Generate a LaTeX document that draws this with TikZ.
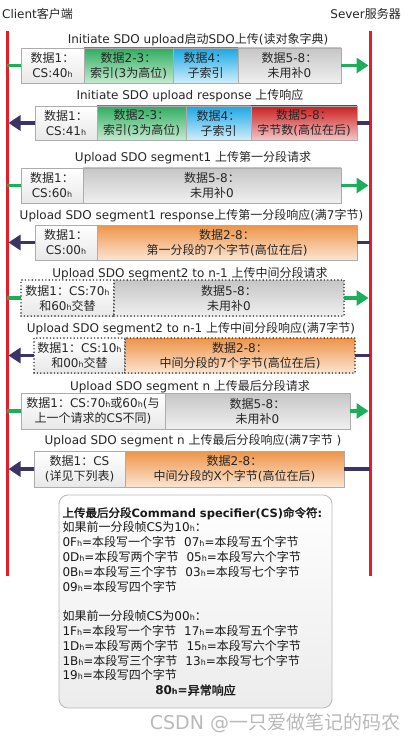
\documentclass[tikz,border=0pt]{standalone}
\usepackage{fontspec}
\usetikzlibrary{positioning,arrows.meta}
\setmainfont{DejaVu Sans}
\newfontfamily\cjkfont{Noto Sans CJK SC}[AutoFakeBold=2]

% switch to the CJK font for Chinese characters
\XeTeXinterchartokenstate=1
\chardef\cjkclass=100
\newcount\cjkcnt
\def\setcharclass#1#2#3{\cjkcnt=#1\relax
  \loop\XeTeXcharclass\cjkcnt=#3\relax\ifnum\cjkcnt<#2\advance\cjkcnt by 1\repeat}
\setcharclass{"21}{"2FFF}{0}
\setcharclass{"3000}{"303F}{\cjkclass}
\setcharclass{"4E00}{"9FFF}{\cjkclass}
\setcharclass{"FF00}{"FFEF}{\cjkclass}
\XeTeXinterchartoks 0 \cjkclass = {\begingroup\cjkfont}
\XeTeXinterchartoks 4095 \cjkclass = {\begingroup\cjkfont}
\XeTeXinterchartoks \cjkclass 0 = {\endgroup}
\XeTeXinterchartoks \cjkclass 4095 = {\endgroup}

\definecolor{lifered}{HTML}{E41E26}
\definecolor{arrgreen}{HTML}{1DAE5C}
\definecolor{arrpurple}{HTML}{3D3466}
\definecolor{gtop}{HTML}{2EAD5F}
\definecolor{gbot}{HTML}{C5EAD0}
\definecolor{btop}{HTML}{1AA7E6}
\definecolor{bbot}{HTML}{D2EEFA}
\definecolor{rtop}{HTML}{CC1E1E}
\definecolor{rbot}{HTML}{F4C6C6}
\definecolor{otop}{HTML}{EE9448}
\definecolor{obot}{HTML}{FBE5D2}

\newcommand{\hsub}{{\fontsize{8}{8}\selectfont h}}

\tikzset{
  lifeline/.style={draw=lifered, line width=3pt},
  title/.style={font=\fontsize{12}{14}\selectfont, inner sep=0pt, text=black!85},
  cell/.style={draw=gray!65, line width=0.8pt, minimum height=35, inner sep=1pt,
    outer sep=0pt, align=center, text=black!85, font=\fontsize{12}{15}\selectfont},
  dotcell/.style={cell, draw=black!85, line width=1.6pt, line cap=round,
    dash pattern=on 0pt off 3.4pt},
  cellwhite/.style={top color=white, bottom color=gray!18},
  cellgreen/.style={top color=gtop, bottom color=gbot},
  cellblue/.style={top color=btop, bottom color=bbot},
  cellred/.style={top color=rtop, bottom color=rbot},
  cellorange/.style={top color=otop, bottom color=obot},
  cellgrey/.style={top color=gray!45, bottom color=gray!12},
  reqline/.style={draw=arrgreen, line width=3.5pt},
  resline/.style={draw=arrpurple, line width=3.5pt},
  reqarrow/.style={reqline, -{Triangle[length=12pt,width=15pt]}, shorten >=1.5pt},
  resarrow/.style={resline, -{Triangle[length=12pt,width=15pt]}, shorten >=1.5pt}
}

\begin{document}
\begin{tikzpicture}[x=1pt,y=-1pt]
\useasboundingbox (0,0) rectangle (417,743);

% client and server
\node[title, anchor=west] (client) at (2,14) {Client客户端};
\node[title, anchor=east] (server) at (401,14) {Sever服务器};
\coordinate (cltop) at (7,31);
\coordinate (clbot) at (7,576);
\coordinate (svtop) at (370,31);
\coordinate (svbot) at (370,576);
\draw[lifeline] (cltop) -- (clbot);
\draw[lifeline] (svtop) -- (svbot);

% Initiate SDO upload
\node[title] (t1) at (198,40) {Initiate SDO upload启动SDO上传(读对象字典)};
\node[cell, cellwhite, minimum width=63] (f1a) at (52.5,65.5) {数据1：\\CS:40\hsub};
\node[cell, cellgreen, minimum width=89, right=0pt of f1a] (f1b) {数据2-3：\\索引(3为高位)};
\node[cell, cellblue, minimum width=65, right=0pt of f1b] (f1c) {数据4：\\子索引};
\node[cell, cellgrey, minimum width=103, right=0pt of f1c] (f1d) {数据5-8：\\未用补0};
\draw[reqline] (cltop |- f1a.west) -- (f1a.west);
\draw[reqarrow] (f1d.east) -- (svtop |- f1d.east);

% Initiate SDO upload response
\node[title] (t2) at (190,96) {Initiate SDO upload response 上传响应};
\node[cell, cellwhite, minimum width=62, minimum height=34] (f2a) at (66,123) {数据1：\\CS:41\hsub};
\node[cell, cellgreen, minimum width=89, minimum height=34, right=0pt of f2a] (f2b) {数据2-3：\\索引(3为高位)};
\node[cell, cellblue, minimum width=65, minimum height=34, right=0pt of f2b] (f2c) {数据4：\\子索引};
\node[cell, cellred, minimum width=106, minimum height=34, right=0pt of f2c] (f2d) {数据5-8：\\字节数(高位在后)};
\draw[resline] (svtop |- f2d.east) -- (f2d.east);
\draw[resarrow] (f2a.west) -- (cltop |- f2a.west);

% Upload SDO segment1
\node[title] (t3) at (193,158) {Upload SDO segment1 上传第一分段请求};
\node[cell, cellwhite, minimum width=62] (f3a) at (52,185.5) {数据1：\\CS:60\hsub};
\node[cell, cellgrey, minimum width=258, right=0pt of f3a] (f3b) {数据5-8：\\未用补0};
\draw[reqline] (cltop |- f3a.west) -- (f3a.west);
\draw[reqarrow] (f3b.east) -- (svtop |- f3b.east);

% Upload SDO segment1 response
\node[title] (t4) at (191.5,216) {Upload SDO segment1 response上传第一分段响应(满7字节)};
\node[cell, cellwhite, minimum width=62] (f4a) at (66,242.5) {数据1：\\CS:00\hsub};
\node[cell, cellorange, minimum width=260, right=0pt of f4a] (f4b) {数据2-8：\\第一分段的7个字节(高位在后)};
\draw[resline] (svtop |- f4b.east) -- (f4b.east);
\draw[resarrow] (f4a.west) -- (cltop |- f4a.west);

% Upload SDO segment2 to n-1
\node[title] (t5) at (190,274) {Upload SDO segment2 to n-1 上传中间分段请求};
\node[dotcell, cellwhite, minimum width=93, minimum height=36] (f5a) at (67.5,298) {数据1：CS:70\hsub\\和60\hsub 交替};
\node[dotcell, cellgrey, minimum width=230, minimum height=36, right=0pt of f5a] (f5b) {数据5-8：\\未用补0};
\draw[reqline] (cltop |- f5a.west) -- (f5a.west);
\draw[reqarrow] (f5b.east) -- (svtop |- f5b.east);

% Upload SDO segment2 to n-1 response
\node[title] (t6) at (191,329) {Upload SDO segment2 to n-1 上传中间分段响应(满7字节)};
\node[dotcell, cellwhite, minimum width=91] (f6a) at (79.5,355.5) {数据1：CS:10\hsub\\和00\hsub 交替};
\node[dotcell, cellorange, minimum width=230, right=0pt of f6a] (f6b) {数据2-8：\\中间分段的7个字节(高位在后)};
\draw[resline] (svtop |- f6b.east) -- (f6b.east);
\draw[resarrow] (f6a.west) -- (cltop |- f6a.west);

% Upload SDO segment n
\node[title] (t7) at (190,387) {Upload SDO segment n 上传最后分段请求};
\node[cell, cellwhite, minimum width=144, minimum height=36] (f7a) at (93,411) {数据1：CS:70\hsub 或60\hsub(与\\上一个请求的CS不同)};
\node[cell, cellgrey, minimum width=185, minimum height=36, right=0pt of f7a] (f7b) {数据5-8：\\未用补0};
\draw[reqline] (cltop |- f7a.west) -- (f7a.west);
\draw[reqarrow] (f7b.east) -- (svtop |- f7b.east);

% Upload SDO segment n response
\node[title] (t8) at (193,441) {Upload SDO segment n 上传最后分段响应(满7字节 )};
\node[cell, cellwhite, minimum width=91, minimum height=36] (f8a) at (79.5,469) {数据1：CS\\(详见下列表)};
\node[cell, cellorange, minimum width=219, minimum height=36, right=0pt of f8a] (f8b) {数据2-8：\\中间分段的X个字节(高位在后)};
\draw[resline] (svtop |- f8b.east) -- (f8b.east);
\draw[resarrow] (f8a.west) -- (cltop |- f8a.west);

% command specifier list
\node[draw=gray!55, line width=0.8pt, rounded corners=9, top color=white, bottom color=gray!15,
  minimum width=273, minimum height=213, inner sep=3.5pt, text width=266, align=left,
  text=black!90, font=\fontsize{12}{14.8}\selectfont] (csbox) at (195.5,601.5)
{
{\fontsize{11.5}{14.8}\selectfont\bfseries 上传最后分段Command specifier(CS)命令符:}\\
如果前一分段帧CS为10\hsub：\\
0F\hsub=本段写一个字节~~07\hsub=本段写五个字节\\
0D\hsub=本段写两个字节~~05\hsub=本段写六个字节\\
0B\hsub=本段写三个字节~~03\hsub=本段写七个字节\\
09\hsub=本段写四个字节\\
~\\
如果前一分段帧CS为00\hsub：\\
1F\hsub=本段写一个字节~~17\hsub=本段写五个字节\\
1D\hsub=本段写两个字节~~15\hsub=本段写六个字节\\
1B\hsub=本段写三个字节~~13\hsub=本段写七个字节\\
19\hsub=本段写四个字节\\
\hspace*{\fill}{\bfseries 80\hsub=异常响应}\hspace*{\fill}
};

\node[font=\fontsize{19}{19}\selectfont, text=gray!55, inner sep=0pt] (wm) at (275,723) {CSDN @一只爱做笔记的码农};
\end{tikzpicture}
\end{document}
